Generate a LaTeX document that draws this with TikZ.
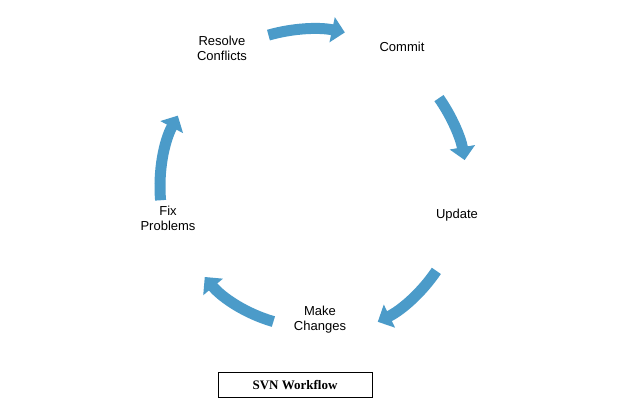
\documentclass[tikz,border=0pt]{standalone}
\usepackage{fontspec}
\setmainfont{Liberation Sans}
\newfontfamily\serifb{Liberation Serif}
\usetikzlibrary{arrows.meta,calc}
\definecolor{arrblue}{RGB}{75,155,201}
\begin{document}
\begin{tikzpicture}[x=1pt,y=1pt,
  lbl/.style={font=\fontsize{13}{15}\selectfont, align=center, inner sep=0pt},
  cyc/.style={draw=arrblue, line width=11pt, -{Triangle[width=25pt,length=13pt]}}]
\useasboundingbox (0,0) rectangle (630,402);
\coordinate (c) at (312,215);
\node[lbl] (commit) at (402,355) {Commit};
\node[lbl] (update) at (457,187) {Update};
\node[lbl] (make) at (320,82) {Make\\Changes};
\node[lbl] (fix) at (168,184) {Fix\\Problems};
\node[lbl] (resolve) at (222,354) {Resolve\\Conflicts};
\draw[cyc] ($(c)+(106:158)$) arc[start angle=106, end angle=78, radius=158];
\draw[cyc] ($(c)+(35:155)$) arc[start angle=35, end angle=10, radius=155];
\draw[cyc] ($(c)+(-34:150)$) arc[start angle=-34, end angle=-64, radius=150];
\draw[cyc] ($(c)+(-106:140)$) arc[start angle=-106, end angle=-140, radius=140];
\draw[cyc] ($(c)+(185:152)$) arc[start angle=185, end angle=152, radius=152];
\node[draw, line width=0.8pt, minimum width=154pt, minimum height=25pt, inner sep=0pt,
  font=\serifb\bfseries\fontsize{13}{15}\selectfont] (title) at (295,17) {SVN Workflow};
\end{tikzpicture}
\end{document}
